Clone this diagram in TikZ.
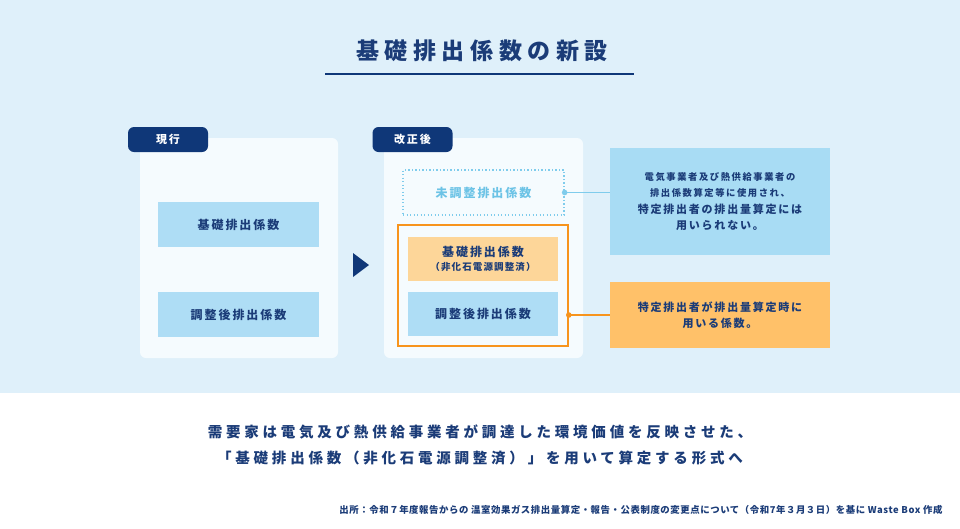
\documentclass[tikz,border=0pt]{standalone}
\usepackage{fontspec}
\usetikzlibrary{calc}
\setmainfont{Noto Sans CJK JP}
\newfontfamily\jpT[LetterSpace=24]{Noto Sans CJK JP}
\newfontfamily\jpB[LetterSpace=16]{Noto Sans CJK JP}
\newfontfamily\jpS[LetterSpace=12]{Noto Sans CJK JP}
\newfontfamily\jpSS[LetterSpace=17]{Noto Sans CJK JP}
\newfontfamily\jpL[LetterSpace=26]{Noto Sans CJK JP}
\newfontfamily\jpN[LetterSpace=6]{Noto Sans CJK JP}
\definecolor{bgblue}{HTML}{DFF0FA}
\definecolor{panel}{HTML}{F5FBFE}
\definecolor{navy}{HTML}{0F3778}
\definecolor{txt}{HTML}{1B3C78}
\definecolor{lbox}{HTML}{AEDDF5}
\definecolor{ostroke}{HTML}{F7941D}
\definecolor{obox}{HTML}{FDD699}
\definecolor{oinfo}{HTML}{FFC169}
\definecolor{binfo}{HTML}{A8DCF4}
\definecolor{dotc}{HTML}{7FCCEC}
\definecolor{dottxt}{HTML}{6CC3E6}
\newcommand\fsmallj{\jpSS\bfseries\fontsize{9.3}{11}\selectfont}
\newcommand\fmidj{\jpB\bfseries\fontsize{11}{13}\selectfont}
\newcommand\fboxj{\jpB\bfseries\fontsize{12}{15}\selectfont}
\newcommand\fsubj{\jpS\bfseries\fontsize{9.5}{12}\selectfont}
\begin{document}
\begin{tikzpicture}[x=1pt,y=-1pt,
  panelbox/.style={fill=panel,rounded corners=6pt},
  tabbox/.style={fill=navy,rounded corners=6pt,text=white,font=\jpB\bfseries\fontsize{11}{13}\selectfont},
  coefbox/.style={fill=lbox,text=txt,font=\fboxj,align=center},
  infotext/.style={text=txt,align=center}
]
\useasboundingbox (0,0) rectangle (960,528);
\fill[bgblue] (0,0) rectangle (960,393);
\fill[white] (0,393) rectangle (960,528);

% title
\node[text=txt,font=\jpT\bfseries\fontsize{23}{27}\selectfont] (title) at (482,51) {基礎排出係数の新設};
\coordinate (ulA) at (325,74);
\coordinate (ulB) at (634,74);
\draw[navy,line width=2.5pt] (ulA) -- (ulB);

% left panel
\path[panelbox] (140,138) rectangle (338,358);
\node[tabbox,minimum width=80pt,minimum height=25pt,inner sep=0pt] (tabL) at (168,139.5) {現行};
\node[coefbox,minimum width=161pt,minimum height=45pt,inner sep=0pt] (baseL) at (238.5,224.5) {基礎排出係数};
\node[coefbox,minimum width=161pt,minimum height=45pt,inner sep=0pt] (adjL) at (238.5,314.5) {調整後排出係数};

% arrow
\fill[navy] (353,253) -- (369,265) -- (353,277) -- cycle;

% right panel
\path[panelbox] (384,138) rectangle (583,358);
\node[tabbox,minimum width=80pt,minimum height=25pt,inner sep=0pt] (tabR) at (412.5,139.5) {改正後};
\node[draw=dotc,line width=1.3pt,dash pattern=on 1.3pt off 2.2pt,text=dottxt,font=\fboxj,minimum width=161pt,minimum height=45pt,inner sep=0pt] (unadj) at (483.5,192.5) {未調整排出係数};
\node[draw=ostroke,line width=1.6pt,minimum width=170pt,minimum height=121pt,inner sep=0pt] (oframe) at (483,285.5) {};
\node[fill=obox,text=txt,align=center,minimum width=150pt,minimum height=44pt,inner sep=0pt] (baseR) at (483,259)
  {\fboxj 基礎排出係数\\[1.5pt]\fsubj （非化石電源調整済）};
\node[coefbox,minimum width=150pt,minimum height=44pt,inner sep=0pt] (adjR) at (483,314) {調整後排出係数};

% info boxes
\node[fill=binfo,infotext,minimum width=220pt,minimum height=107pt,inner sep=0pt] (infoA) at (720,201.5)
  {\fsmallj 電気事業者及び熱供給事業者の\\[4.5pt]\fsmallj 排出係数算定等に使用され、\\[5pt]\fmidj 特定排出者の排出量算定には\\[4pt]\fmidj 用いられない。};
\node[fill=oinfo,infotext,minimum width=220pt,minimum height=66pt,inner sep=0pt] (infoB) at (720,315)
  {\fmidj 特定排出者が排出量算定時に\\[4pt]\fmidj 用いる係数。};

% connectors
\coordinate (dotA) at (unadj.east);
\coordinate (dotB) at ($(oframe.east)+(0,29.5)$);
\draw[dotc,line width=1.2pt] (dotA) -- (dotA -| infoA.west);
\fill[dotc] (dotA) circle (2.8pt);
\draw[ostroke,line width=1.2pt] (dotB) -- (dotB -| infoB.west);
\fill[ostroke] (dotB) circle (2.8pt);

% bottom text
\node[text=txt,align=center,font=\jpL\bfseries\fontsize{14.5}{26}\selectfont] (summary) at (480,445)
  {需要家は電気及び熱供給事業者が調達した環境価値を反映させた、\\「基礎排出係数（非化石電源調整済）」を用いて算定する形式へ};
\node[text=txt,anchor=east,font=\jpN\bfseries\fontsize{9.4}{11}\selectfont] (source) at (946,510)
  {出所：令和７年度報告からの 温室効果ガス排出量算定・報告・公表制度の変更点について（令和7年３月３日）を基に Waste Box 作成};
\end{tikzpicture}
\end{document}
